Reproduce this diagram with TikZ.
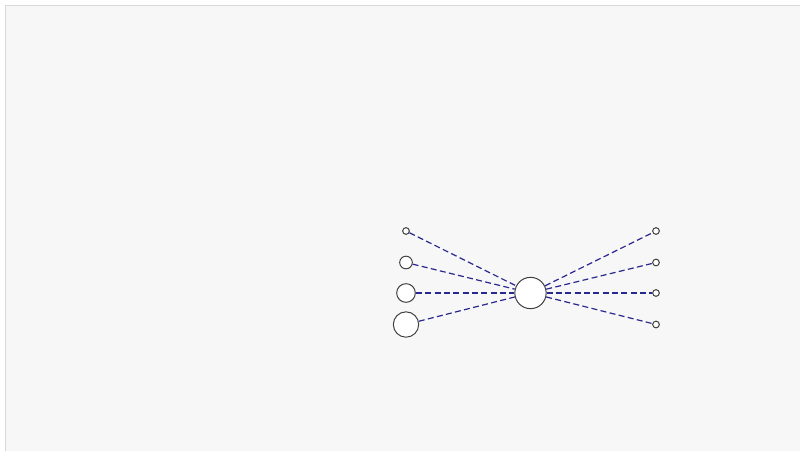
\documentclass[tikz,border=0pt]{standalone}
\usepackage{tikz}
\usepackage{xcolor}
\usetikzlibrary{positioning}

\definecolor{pagegray}{HTML}{F7F7F7}
\definecolor{framegray}{HTML}{D9D9D9}
\definecolor{ringgray}{HTML}{404040}
\definecolor{linkblue}{HTML}{28288F}

\begin{document}
\begin{tikzpicture}[x=0.75pt,y=-0.75pt,
   ball/.style={circle,draw=ringgray,fill=white,line width=0.75pt,inner sep=0pt},
   link/.style={draw=linkblue,line width=0.9pt,dash pattern=on 4.5pt off 2.5pt}]
   \useasboundingbox (0,0) rectangle (800,450);
   \fill[white] (0,0) rectangle (800,450);
   \filldraw[fill=pagegray,draw=framegray,line width=0.75pt] (5.5,5.5) rectangle (810,460);

   \node[ball,minimum size=23.5pt] (hub) at (530.5,293) {};
   \node[ball,minimum size=5pt]  (in_a) at (406,231) {};
   \node[ball,minimum size=9.5pt]  (in_b) at (406,262.5) {};
   \node[ball,minimum size=14pt] (in_c) at (406,293) {};
   \node[ball,minimum size=19pt] (in_d) at (406,324.5) {};
   \node[ball,minimum size=5pt]  (out_a) at (656,231) {};
   \node[ball,minimum size=5pt]  (out_b) at (656,262.5) {};
   \node[ball,minimum size=5pt]  (out_c) at (656,293) {};
   \node[ball,minimum size=5pt]  (out_d) at (656,324.5) {};

   \path[link]
   (in_a) edge (hub)
   (in_b) edge (hub)
   (in_c) edge (hub)
   (in_d) edge (hub)
   (hub) edge (out_a)
         edge (out_b)
         edge (out_c)
         edge (out_d);
\end{tikzpicture}
\end{document}
